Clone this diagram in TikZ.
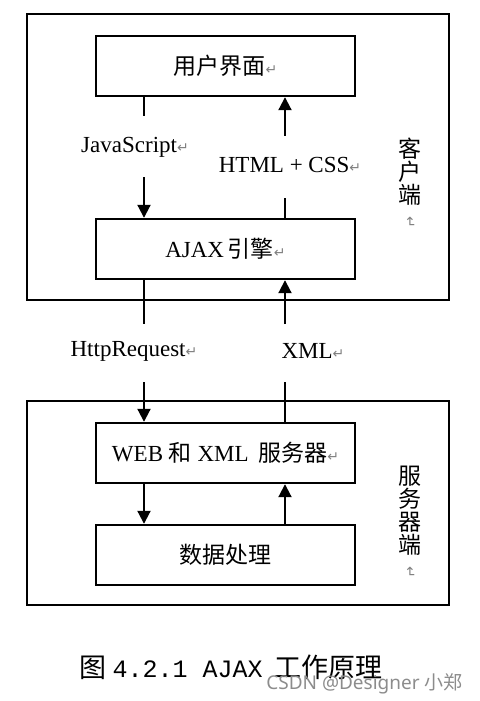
\documentclass[tikz,border=0pt]{standalone}
\usepackage{fontspec}
\setmainfont{Liberation Serif}
\newfontfamily\cjk{Noto Sans CJK SC}
\newfontfamily\symfont{DejaVu Sans}
\newfontfamily\capmono{Liberation Mono}
\newfontfamily\wmfont{Noto Sans}
\usetikzlibrary{arrows.meta}
\newcommand{\retmark}{{\symfont\fontsize{7}{8}\selectfont\color{gray}↵}}
\newcommand{\vretmark}{{\symfont\fontsize{7}{8}\selectfont\color{gray}\rotatebox{-90}{↵}}}

\begin{document}
\begin{tikzpicture}[
    x=0.5pt, y=-0.5pt,
    every node/.style={font=\fontsize{11.5}{14}\selectfont, inner sep=1pt},
    region/.style={draw, line width=1.2pt, minimum width=211pt},
    part/.style={draw, line width=1.2pt, minimum width=129.5pt, minimum height=30pt},
    flow/.style={line width=1pt},
    head/.style={flow, -{Triangle[width=6.5pt,length=6.5pt]}},
    vlabel/.style={align=center, font=\cjk\fontsize{11.5}{11.5}\selectfont}
  ]
  \useasboundingbox (0,0) rectangle (480,701);
  \coordinate (xl) at (144,0);
  \coordinate (xr) at (285,0);

  \node[region, minimum height=143pt] (client) at (238,157) {};
  \node[region, minimum height=102pt] (server) at (238,503) {};

  \node[part] (ui) at (225.5,66) {{\cjk 用户界面}\retmark};
  \node[part] (ajax) at (225.5,249) {AJAX\,{\cjk 引擎}\retmark};
  \node[part] (web) at (225.5,453) {WEB {\cjk 和} XML\, {\cjk 服务器}\retmark};
  \node[part] (data) at (225.5,555) {{\cjk 数据处理}};

  \node (js) at (135,147) {JavaScript\retmark};
  \node (hc) at (290,165) {HTML + CSS\retmark};
  \node (hr) at (134,351) {HttpRequest\retmark};
  \node (xm) at (313,351) {XML\retmark};

  \node[vlabel] (cl) at (410,183) {客\\户\\端\\[-5pt]\vretmark};
  \node[vlabel] (sv) at (410,522) {服\\务\\器\\端\\[-5pt]\vretmark};

  \coordinate (js top) at (144,116);
  \coordinate (js bot) at (144,177);
  \coordinate (hc top) at (285,136);
  \coordinate (hc bot) at (285,198);
  \coordinate (hr top) at (144,324);
  \coordinate (hr bot) at (144,382);
  \coordinate (xm top) at (285,324);
  \coordinate (xm bot) at (285,382);

  \draw[flow] (ui.south -| xl) -- (js top);
  \draw[head] (js bot) -- (ajax.north -| xl);
  \draw[flow] (ajax.north -| xr) -- (hc bot);
  \draw[head] (hc top) -- (ui.south -| xr);
  \draw[flow] (ajax.south -| xl) -- (hr top);
  \draw[head] (hr bot) -- (web.north -| xl);
  \draw[flow] (web.north -| xr) -- (xm bot);
  \draw[head] (xm top) -- (ajax.south -| xr);
  \draw[head] (web.south -| xl) -- (data.north -| xl);
  \draw[head] (data.north -| xr) -- (web.south -| xr);

  \node (cap) at (231,667) {{\cjk\fontsize{13.5}{16}\selectfont 图}\ {\capmono\fontsize{12.5}{15}\selectfont 4.2.1 AJAX}\ \ {\cjk\fontsize{13.5}{16}\selectfont 工作原理}};
  \node[anchor=east, text=black!45, font=\wmfont\fontsize{9.5}{11}\selectfont] (wm) at (465,684) {CSDN @Designer {\cjk 小郑}};
\end{tikzpicture}
\end{document}
